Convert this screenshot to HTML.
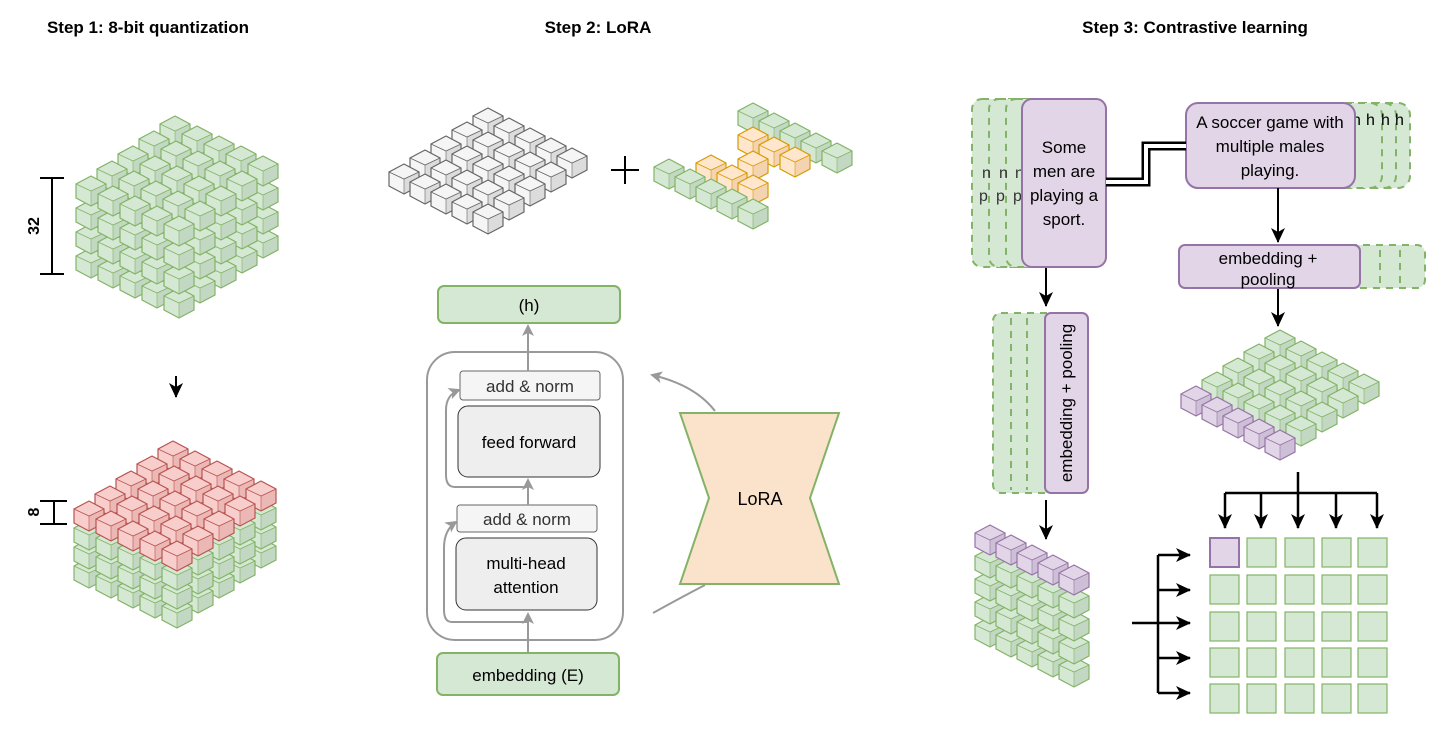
<!DOCTYPE html>
<html><head><meta charset="utf-8">
<style>
html,body{margin:0;padding:0;background:#fff;}
svg{display:block;font-family:"Liberation Sans",Arial,sans-serif;}
</style></head>
<body>
<svg id="s" width="1449" height="731" viewBox="0 0 1449 731" xmlns="http://www.w3.org/2000/svg">
<defs>
<marker id="ag" markerWidth="12" markerHeight="12" refX="10" refY="6" orient="auto" markerUnits="userSpaceOnUse"><path d="M0,0 L12,6 L0,12 L3,6 Z" fill="#999"/></marker>
<marker id="abk" markerWidth="16" markerHeight="16" refX="14" refY="8" orient="auto" markerUnits="userSpaceOnUse"><path d="M0,1 L15,8 L0,15 L4,8 Z" fill="#000"/></marker>
</defs>
<g font-weight="bold" font-size="17" text-anchor="middle" fill="#000">
<text x="148" y="33">Step 1: 8-bit quantization</text>
<text x="598" y="33">Step 2: LoRA</text>
<text x="1195" y="33">Step 3: Contrastive learning</text>
</g>
<g id="cubes"></g>

<g stroke="#000" stroke-width="2">
<line x1="52" y1="178" x2="52" y2="274"/><line x1="40" y1="178" x2="64" y2="178"/><line x1="40" y1="274" x2="64" y2="274"/>
<line x1="54" y1="501" x2="54" y2="524"/><line x1="40" y1="501" x2="67" y2="501"/><line x1="40" y1="524" x2="67" y2="524"/>
</g>
<text x="33" y="226" font-size="16" font-weight="bold" text-anchor="middle" transform="rotate(-90 33 226)" dy="6">32</text>
<text x="33" y="512" font-size="16" font-weight="bold" text-anchor="middle" transform="rotate(-90 33 512)" dy="6">8</text>
<line x1="176" y1="376" x2="176" y2="397" stroke="#000" stroke-width="2" marker-end="url(#abk)"/>

<line x1="611" y1="170" x2="639" y2="170" stroke="#000" stroke-width="2"/>
<line x1="625" y1="156" x2="625" y2="184" stroke="#000" stroke-width="2"/>

<rect x="438" y="286" width="182" height="37" rx="6" fill="#d5e8d4" stroke="#82b366" stroke-width="2"/>
<text x="529" y="311" font-size="17" text-anchor="middle">(h)</text>
<rect x="427" y="352" width="196" height="288" rx="28" fill="none" stroke="#999" stroke-width="2"/>
<rect x="460" y="371" width="140" height="29" rx="3" fill="#f5f5f5" stroke="#666"/>
<text x="530" y="392" font-size="17" text-anchor="middle" fill="#333">add &amp; norm</text>
<rect x="458" y="406" width="142" height="71" rx="10" fill="#eeeeee" stroke="#333"/>
<text x="529" y="448" font-size="17" text-anchor="middle">feed forward</text>
<rect x="457" y="505" width="140" height="27" rx="3" fill="#f5f5f5" stroke="#666"/>
<text x="527" y="525" font-size="17" text-anchor="middle" fill="#333">add &amp; norm</text>
<rect x="456" y="538" width="141" height="72" rx="10" fill="#eeeeee" stroke="#333"/>
<text x="526" y="569" font-size="17" text-anchor="middle">multi-head</text>
<text x="526" y="593" font-size="17" text-anchor="middle">attention</text>
<rect x="437" y="653" width="182" height="42" rx="6" fill="#d5e8d4" stroke="#82b366" stroke-width="2"/>
<text x="528" y="681" font-size="17" text-anchor="middle">embedding (E)</text>
<g stroke="#999" stroke-width="2" fill="none">
<line x1="528" y1="652" x2="528" y2="614" marker-end="url(#ag)"/>
<line x1="528" y1="505" x2="528" y2="480" marker-end="url(#ag)"/>
<line x1="528" y1="371" x2="528" y2="326" marker-end="url(#ag)"/>
<path d="M528,622 L452,622 Q444,622 444,610 L444,548 Q444,530 456,522" marker-end="url(#ag)"/>
<path d="M528,487 L455,487 Q446,487 446,475 L446,410 Q446,395 459,390" marker-end="url(#ag)"/>
<path d="M715,411 Q695,385 652,375" marker-end="url(#ag)"/>
<path d="M653,613 Q680,598 705,585"/>
</g>
<polygon points="680,413 839,413 810,498 839,584 680,584 709,498" fill="#fbe3cb" stroke="#82b366" stroke-width="2"/>
<text x="760" y="505" font-size="18" text-anchor="middle">LoRA</text>

<g fill="#d5e8d4" stroke="#82b366" stroke-width="2" stroke-dasharray="7,6">
<rect x="972" y="99" width="84" height="168" rx="10"/>
<rect x="989" y="99" width="84" height="168" rx="10"/>
<rect x="1006" y="99" width="84" height="168" rx="10"/>
</g>
<g font-size="16" fill="#333"><text x="982" y="178">n</text><text x="999" y="178">n</text><text x="1015" y="178">n</text>
<text x="979" y="201">p</text><text x="996" y="201">p</text><text x="1013" y="201">p</text></g>
<rect x="1022" y="99" width="84" height="168" rx="10" fill="#e1d5e7" stroke="#9673a6" stroke-width="2"/>
<g font-size="17" text-anchor="middle"><text x="1064" y="153">Some</text><text x="1064" y="177">men are</text><text x="1064" y="201">playing a</text><text x="1064" y="225">sport.</text></g>

<g fill="#d5e8d4" stroke="#82b366" stroke-width="2" stroke-dasharray="7,6">
<rect x="1244" y="103" width="166" height="85" rx="12"/>
<rect x="1230" y="103" width="166" height="85" rx="12"/>
<rect x="1216" y="103" width="166" height="85" rx="12"/>
</g>
<g font-size="16"><text x="1352" y="125">h</text><text x="1366" y="125">h</text><text x="1381" y="125">h</text><text x="1395" y="125">h</text></g>
<rect x="1186" y="103" width="169" height="85" rx="12" fill="#e1d5e7" stroke="#9673a6" stroke-width="2"/>
<g font-size="17" text-anchor="middle"><text x="1270" y="128">A soccer game with</text><text x="1270" y="152">multiple males</text><text x="1270" y="176">playing.</text></g>
<path d="M1106,182 L1146,182 L1146,146 L1186,146" fill="none" stroke="#000" stroke-width="9"/>
<path d="M1106,182 L1146,182 L1146,146 L1186,146" fill="none" stroke="#fff" stroke-width="4"/>

<line x1="1046" y1="268" x2="1046" y2="306" stroke="#000" stroke-width="2" marker-end="url(#abk)"/>
<line x1="1278" y1="188" x2="1278" y2="242" stroke="#000" stroke-width="2" marker-end="url(#abk)"/>

<g fill="#d5e8d4" stroke="#82b366" stroke-width="2" stroke-dasharray="7,6">
<rect x="1290" y="245" width="135" height="43" rx="8"/>
<rect x="993" y="313" width="80" height="180" rx="8"/>
</g>
<g stroke="#82b366" stroke-width="2" stroke-dasharray="7,6">
<line x1="1380" y1="250" x2="1380" y2="285"/><line x1="1400" y1="250" x2="1400" y2="285"/>
<line x1="1011" y1="318" x2="1011" y2="490"/><line x1="1027" y1="318" x2="1027" y2="490"/>
</g>
<rect x="1179" y="245" width="181" height="43" rx="6" fill="#e1d5e7" stroke="#9673a6" stroke-width="2"/>
<g font-size="17" text-anchor="middle"><text x="1268" y="264">embedding +</text><text x="1268" y="285">pooling</text></g>
<line x1="1278" y1="289" x2="1278" y2="326" stroke="#000" stroke-width="2" marker-end="url(#abk)"/>

<rect x="1045" y="313" width="43" height="180" rx="6" fill="#e1d5e7" stroke="#9673a6" stroke-width="2"/>
<text x="1072" y="403" font-size="17" text-anchor="middle" transform="rotate(-90 1072 403)">embedding + pooling</text>
<line x1="1046" y1="500" x2="1046" y2="539" stroke="#000" stroke-width="2" marker-end="url(#abk)"/>

<g stroke="#000" stroke-width="2.5" fill="none">
<line x1="1298" y1="472" x2="1298" y2="493"/>
<line x1="1225" y1="493" x2="1377" y2="493"/>
<line x1="1225" y1="493" x2="1225" y2="528" marker-end="url(#abk)"/>
<line x1="1261" y1="493" x2="1261" y2="528" marker-end="url(#abk)"/>
<line x1="1298" y1="493" x2="1298" y2="528" marker-end="url(#abk)"/>
<line x1="1336" y1="493" x2="1336" y2="528" marker-end="url(#abk)"/>
<line x1="1377" y1="493" x2="1377" y2="528" marker-end="url(#abk)"/>
<line x1="1132" y1="623" x2="1158" y2="623"/>
<line x1="1158" y1="555" x2="1158" y2="693"/>
<line x1="1158" y1="555" x2="1190" y2="555" marker-end="url(#abk)"/>
<line x1="1158" y1="590" x2="1190" y2="590" marker-end="url(#abk)"/>
<line x1="1158" y1="623" x2="1190" y2="623" marker-end="url(#abk)"/>
<line x1="1158" y1="658" x2="1190" y2="658" marker-end="url(#abk)"/>
<line x1="1158" y1="693" x2="1190" y2="693" marker-end="url(#abk)"/>
</g>
<g id="mat"></g>
</svg>
<script>
(function(){
var NS="http://www.w3.org/2000/svg";
var g=document.getElementById("cubes");
var C={g:["#d5e8d4","#82b366","#c3d8c2"],r:["#f8cecc","#b85450","#ebb8b6"],w:["#f5f5f5","#666666","#dcdcdc"],o:["#ffe6cc","#d79b00","#f3d3b0"],p:["#e1d5e7","#9673a6","#cdbfd6"]};
var W=15,A=8,B=22,H=30,M=15;
function poly(pts,f,s,sw){var p=document.createElementNS(NS,"polygon");p.setAttribute("points",pts);p.setAttribute("fill",f);if(s){p.setAttribute("stroke",s);p.setAttribute("stroke-width",sw||1);}else p.setAttribute("stroke","none");g.appendChild(p);}
function cube(x,y,c){var k=C[c];
var hex=[x,y,x+W,y+A,x+W,y+B,x,y+H,x-W,y+B,x-W,y+A].join(",");
poly(hex,k[0],null);
poly([x,y+M,x+W,y+A,x+W,y+B,x,y+H].join(","),k[2],null);
poly(hex,"none",k[1],1.2);
var l=document.createElementNS(NS,"polyline");l.setAttribute("points",[x-W,y+A,x,y+M,x+W,y+A].join(","));l.setAttribute("fill","none");l.setAttribute("stroke",k[1]);l.setAttribute("stroke-width","0.8");g.appendChild(l);
var l2=document.createElementNS(NS,"line");l2.setAttribute("x1",x);l2.setAttribute("y1",y+M);l2.setAttribute("x2",x);l2.setAttribute("y2",y+H);l2.setAttribute("stroke",k[1]);l2.setAttribute("stroke-width","0.6");g.appendChild(l2);}
function grid(ox,oy,ai,aj,dz,L,n,colf){var list=[];for(var k=0;k<L;k++)for(var s=0;s<=2*(n-1);s++)for(var i=0;i<n;i++){var j=s-i;if(j<0||j>=n)continue;var c=colf(i,j,k);if(!c)continue;list.push([ox+ai[0]*i+aj[0]*j,oy+ai[1]*i+aj[1]*j-dz*k,c]);}
list.forEach(function(q){cube(q[0],q[1],q[2]);});}
grid(175,188,[22,10],[-21,15],24,4,5,function(){return "g";});
grid(173,498,[22,10],[-21,15],19,4,5,function(i,j,k){return k==3?"r":"g";});
grid(488,108,[21,10],[-21,14],0,1,5,function(){return "w";});
var O={"1,1":1,"2,1":1,"3,1":1,"2,2":1,"1,3":1,"2,3":1,"3,3":1};
grid(753,103,[21,10],[-21,14],0,1,5,function(i,j){if(O[i+","+j])return "o";if(j==0||j==4)return "g";return null;});
grid(1280,330,[21,11],[-21,14],0,1,5,function(i,j){return j==4?"p":"g";});
for(var k=0;k<5;k++)for(var i=0;i<5;i++){cube(990+21*i,525+10*i+23*(4-k),k==4?"p":"g");}
var m=document.getElementById("mat");var xs=[1210,1247,1285,1322,1358],ys=[538,575,612,648,684];
for(var r=0;r<5;r++)for(var c=0;c<5;c++){var e=document.createElementNS(NS,"rect");e.setAttribute("x",xs[c]);e.setAttribute("y",ys[r]);e.setAttribute("width",29);e.setAttribute("height",29);var pu=(r==0&&c==0);e.setAttribute("fill",pu?"#e1d5e7":"#d5e8d4");e.setAttribute("stroke",pu?"#9673a6":"#82b366");e.setAttribute("stroke-width",pu?2:1.2);m.appendChild(e);}
})();
</script>
</body></html>
